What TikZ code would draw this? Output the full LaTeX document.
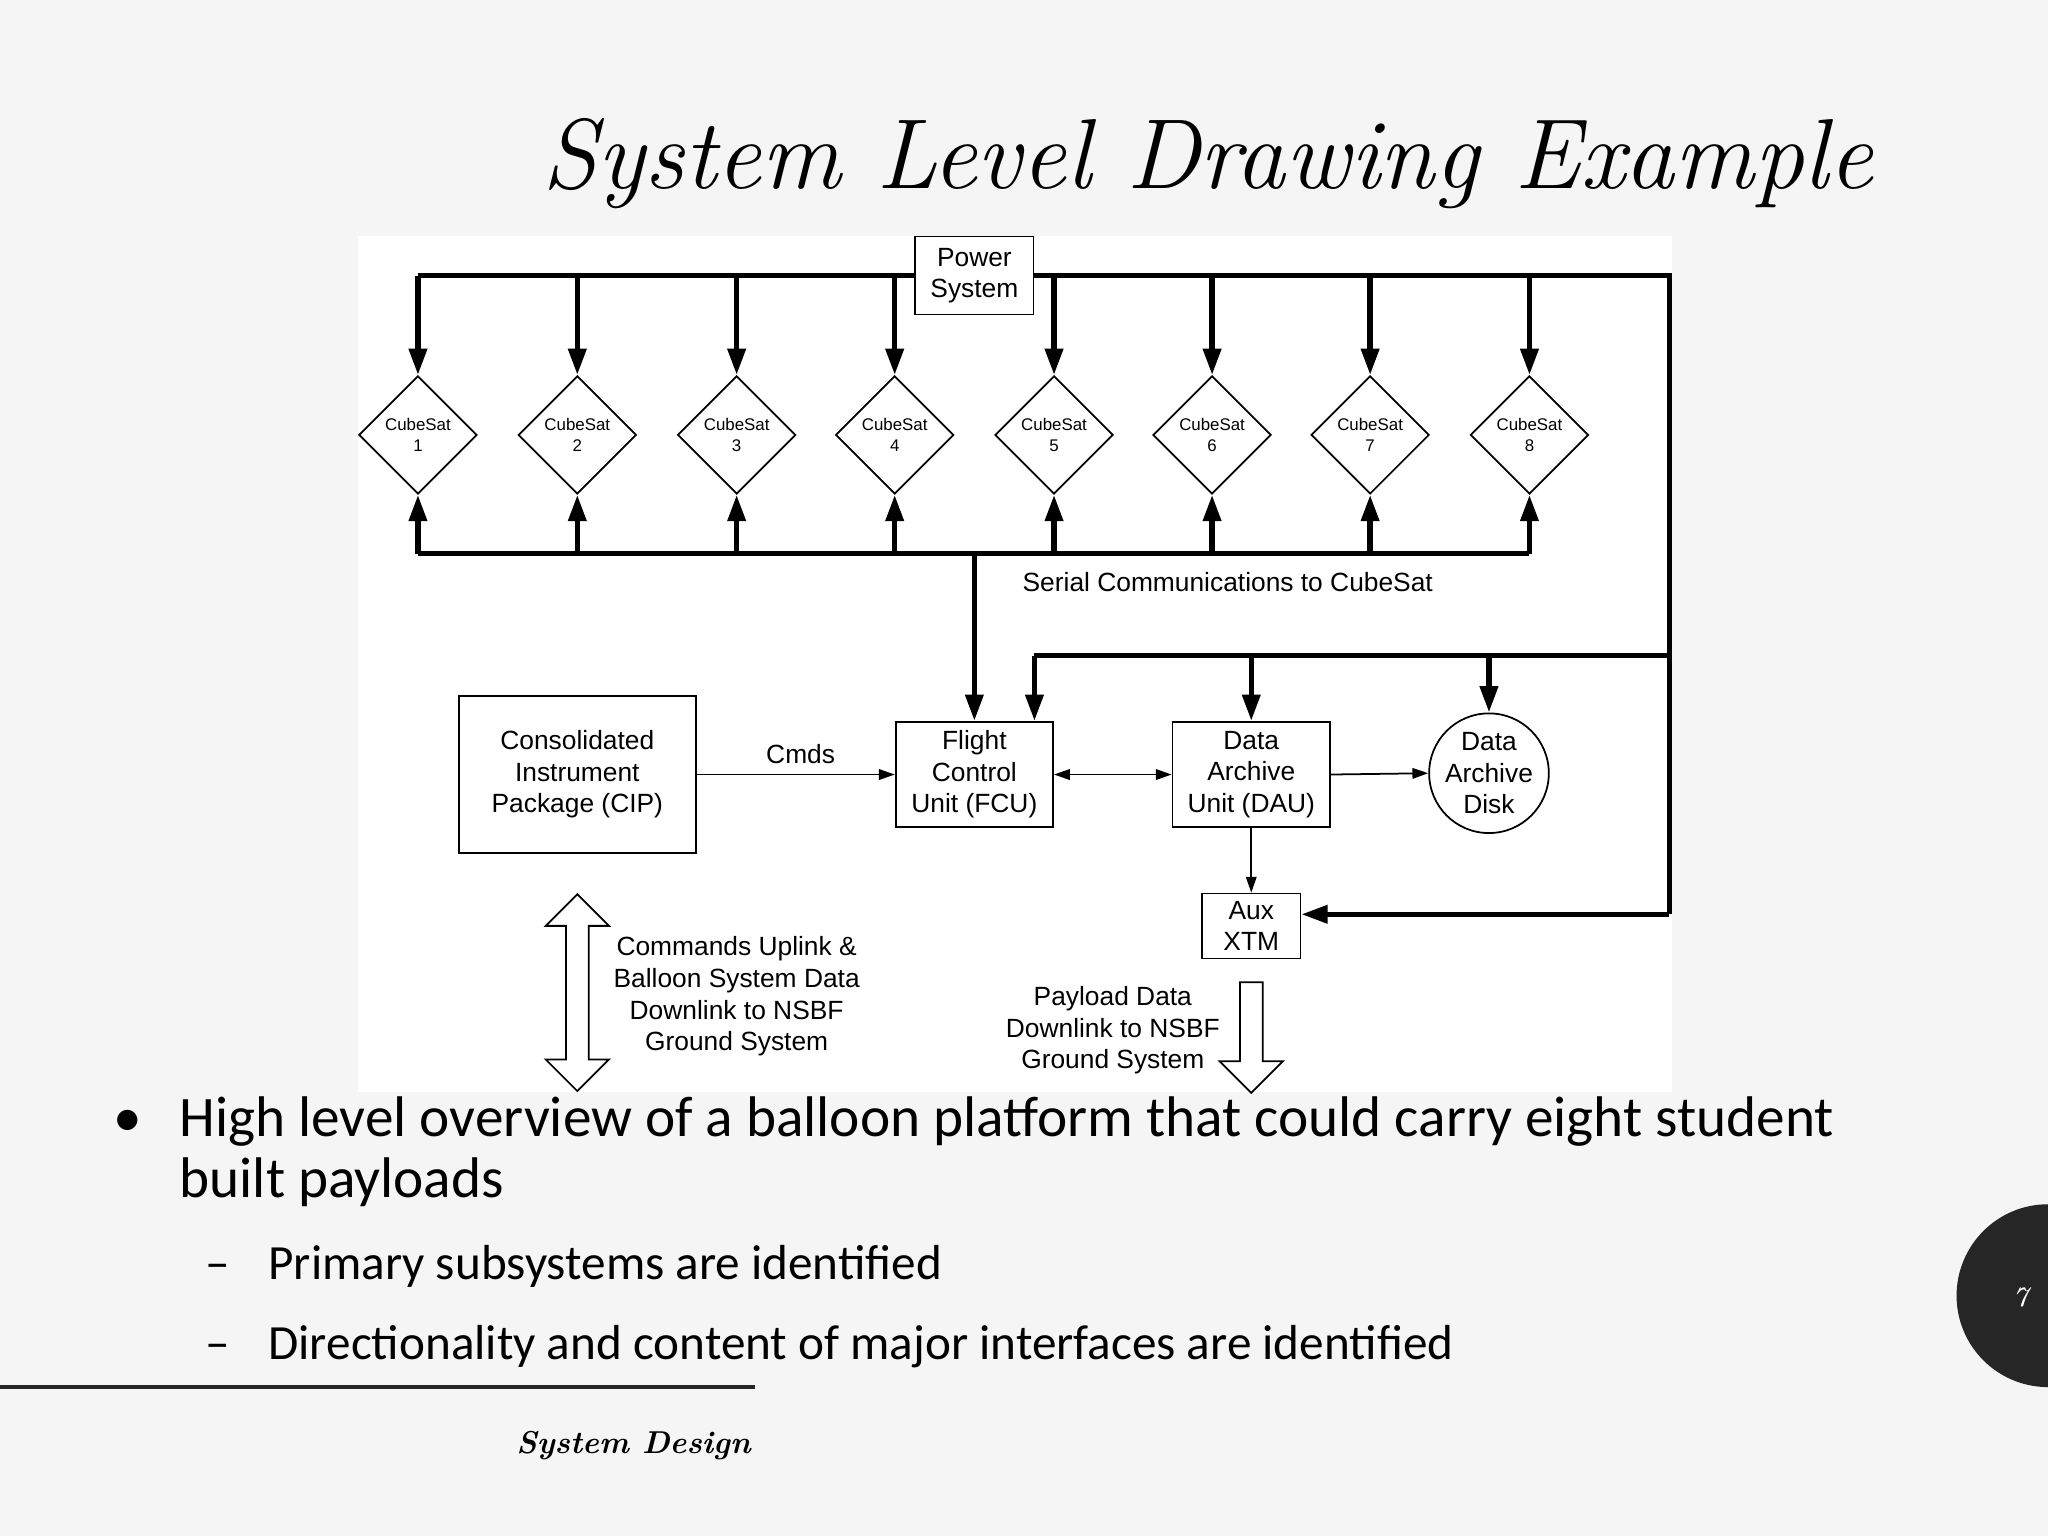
\documentclass[tikz,border=0pt]{standalone}
\usepackage{fontspec}
\setmainfont{Latin Modern Roman}
\setsansfont{Liberation Sans}
\newfontfamily\slidefont{Carlito}
\usetikzlibrary{shapes.geometric,shapes.arrows,arrows.meta}
\begin{document}
\begin{tikzpicture}[x=0.013061cm,y=-0.013061cm,
  box/.style={draw,fill=white,line width=0.5pt,align=center,font=\sffamily\fontsize{7.5}{9}\selectfont,inner sep=1pt},
  bus/.style={line width=1.5pt},
  busarrow/.style={line width=1.5pt,-{Triangle[width=5pt,length=7.5pt]}},
  thin/.style={line width=0.5pt,-{Triangle[width=3pt,length=4.5pt]}},
  lbl/.style={align=center,font=\sffamily\fontsize{7.5}{9}\selectfont},
  slide/.style={anchor=base west,inner sep=0pt,font=\slidefont\fontsize{16.3}{19}\selectfont},
  sub/.style={anchor=base west,inner sep=0pt,font=\slidefont\fontsize{14}{16}\selectfont}]
\useasboundingbox (0,0) rectangle (1568,1176);
\fill[black!4] (0,0) rectangle (1568,1176);
\fill[white] (274,181) rectangle (1280,836);
\node[font=\fontsize{28.3}{34}\selectfont\itshape] (title) at (925,125) {System Level Drawing Example};

% power
\node[box,minimum width=33.6pt,minimum height=22.2pt] (pwr) at (746,211) {Power\\System};
\coordinate (tl) at (320,211);
\coordinate (tr) at (1278,211);
\coordinate (rb) at (1278,700);
\draw[bus] (tl) -- (pwr.west);
\draw[bus] (pwr.east) -- (tr) -- (rb);

\foreach \i/\x in {1/320,2/442,3/564,4/685,5/807,6/928,7/1049,8/1171}{
  \node[draw,diamond,line width=0.5pt,minimum width=33.6pt,minimum height=33.6pt,inner sep=0pt,align=center,font=\sffamily\fontsize{4.8}{5.8}\selectfont] (c\i) at (\x,333) {CubeSat\\\i};
  \coordinate (t\i) at (\x,211);
  \coordinate (b\i) at (\x,424);
  \draw[busarrow] (t\i) -- (c\i.north);
  \draw[busarrow] (b\i) -- (c\i.south);
}
\draw[bus] (b1) -- (b8);

% boxes
\node[box,minimum width=67.5pt,minimum height=44.8pt] (cip) at (442,593) {Consolidated\\Instrument\\Package (CIP)};
\node[box,minimum width=44.8pt,minimum height=30pt] (fcu) at (746,593) {Flight\\Control\\Unit (FCU)};
\node[box,minimum width=44.8pt,minimum height=30pt] (dau) at (958,593) {Data\\Archive\\Unit (DAU)};
\node[draw,circle,line width=0.5pt,minimum size=34pt,align=center,inner sep=0pt,font=\sffamily\fontsize{7.5}{9}\selectfont] (disk) at (1140,592) {Data\\Archive\\Disk};
\node[box,minimum width=28pt,minimum height=18.5pt] (aux) at (958,709) {Aux\\XTM};

\coordinate (sb) at (746,424);
\draw[busarrow] (sb) -- (fcu.north);
\node[lbl] (serial) at (940,446) {Serial Communications to CubeSat};

\coordinate (b2a) at (792,502);
\coordinate (b2d) at (958,502);
\coordinate (b2k) at (1140,502);
\coordinate (b2r) at (1278,502);
\draw[bus] (b2r) -- (b2a);
\draw[busarrow] (b2a) -- (b2a|-fcu.north);
\draw[busarrow] (b2d) -- (dau.north);
\draw[busarrow] (b2k) -- (disk.north);
\draw[busarrow] (rb) -- (rb-|aux.east);

\draw[thin] (cip.east) -- (fcu.west);
\node[lbl] (cmds) at (613,577) {Cmds};
\draw[thin,{Triangle[width=3pt,length=4.5pt]}-{Triangle[width=3pt,length=4.5pt]}] (fcu.east) -- (dau.west);
\draw[thin] (dau.east) -- (disk.west);
\draw[thin] (dau.south) -- (aux.north);

% hollow arrows
\node[draw,double arrow,shape border rotate=90,line width=0.5pt,minimum height=56pt,minimum width=18pt,double arrow head extend=4pt,inner sep=2pt] (up) at (442,760) {};
\node[lbl] (cmdl) at (564,763) {Commands Uplink \&\\Balloon System Data\\Downlink to NSBF\\Ground System};
\node[draw,single arrow,shape border rotate=270,line width=0.5pt,minimum height=31.5pt,minimum width=18pt,single arrow head extend=4pt,inner sep=2pt] (down) at (958,790) {};
\node[lbl] (pay) at (852,789) {Payload Data\\Downlink to NSBF\\Ground System};

% slide text
\node[slide] (bul) at (86,870) {•};
\node[slide] (t1) at (137,870) {High level overview of a balloon platform that could carry eight student};
\node[slide] (t2) at (137,917) {built payloads};
\node[sub] (d1) at (157,980) {–};
\node[sub] (s1) at (205,980) {Primary subsystems are identified};
\node[sub] (d2) at (157,1041) {–};
\node[sub] (s2) at (205,1041) {Directionality and content of major interfaces are identified};
\draw[line width=1.2pt,black!85] (0,1062) -- (578,1062);
\node[font=\fontsize{9}{11}\selectfont\bfseries\itshape] (sd) at (485,1107) {System Design};
\fill[black!85] (1568,992) circle (70);
\node[white,font=\fontsize{8}{10}\selectfont\itshape] (pg) at (1547,993) {7};
\end{tikzpicture}
\end{document}
